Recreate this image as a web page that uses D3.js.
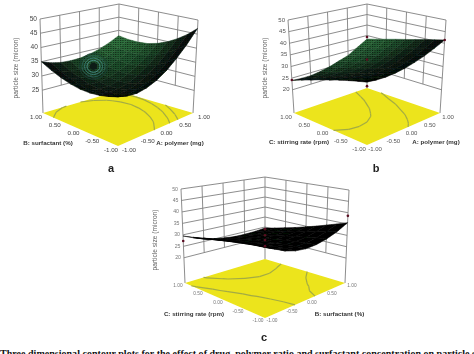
<!DOCTYPE html>
<html>
<head>
<meta charset="utf-8">
<script src="https://cdn.jsdelivr.net/npm/d3@7"></script>
<style>
  html, body { margin: 0; padding: 0; background: #fff; }
  svg { display: block; }
  text { font-family: "Liberation Sans", Arial, sans-serif; }
</style>
</head>
<body>
<div id="chart"></div>
<script>
// factor levels on the surface grid
var levels = [-1, -0.75, -0.5, -0.25, 0, 0.25, 0.5, 0.75, 1];
var axisTicks = [-1, -0.5, 0, 0.5, 1];
var tickLabels = ["-1.00", "-0.50", "0.00", "0.50", "1.00"];

// particle size, rows = second factor, columns = A or B
var sizeA = [
  [32.3, 31.3, 31.1, 31.8, 33.2, 35.4, 38.5, 42.3, 47.0],
  [31.1, 30.0, 29.7, 30.2, 31.4, 33.4, 36.2, 39.8, 44.1],
  [30.4, 29.2, 28.8, 29.1, 30.1, 31.9, 34.4, 37.7, 41.8],
  [30.1, 28.8, 28.3, 28.4, 29.3, 30.9, 33.2, 36.2, 39.9],
  [30.2, 28.9, 28.3, 28.3, 29.0, 30.4, 32.4, 35.1, 38.5],
  [30.8, 29.4, 28.7, 28.7, 29.2, 30.4, 32.0, 34.6, 37.6],
  [31.8, 30.5, 29.8, 29.6, 30.0, 31.0, 32.5, 34.6, 37.3],
  [33.2, 31.9, 31.2, 30.9, 31.2, 32.0, 33.3, 35.1, 37.4],
  [35.0, 33.8, 33.1, 32.9, 33.0, 33.6, 34.6, 36.1, 38.0]
];
var sizeB = [
  [33.5, 33.2, 33.2, 33.6, 34.4, 35.6, 37.1, 39.1, 41.4],
  [32.7, 32.1, 32.0, 32.4, 33.1, 34.3, 35.9, 37.9, 40.5],
  [31.8, 31.1, 30.9, 31.2, 31.9, 33.1, 34.8, 36.9, 39.6],
  [30.8, 30.0, 29.8, 30.0, 30.7, 31.9, 33.7, 35.9, 38.6],
  [29.6, 28.8, 28.5, 28.8, 29.5, 30.8, 32.5, 34.8, 37.6],
  [28.4, 27.6, 27.4, 27.6, 28.4, 29.7, 31.5, 33.8, 36.6],
  [27.0, 26.3, 26.2, 26.5, 27.3, 28.5, 30.4, 32.3, 35.5],
  [25.6, 25.0, 25.0, 25.3, 26.2, 27.5, 29.3, 31.6, 34.4],
  [24.0, 23.7, 23.7, 24.3, 25.2, 26.6, 28.0, 30.6, 33.3]
];
var sizeC = [
  [35.5, 32.9, 31.1, 30.0, 29.6, 30.0, 31.1, 32.9, 35.6],
  [34.8, 32.5, 30.9, 29.8, 29.4, 29.6, 30.5, 32.0, 34.1],
  [34.3, 32.2, 30.6, 29.5, 29.1, 29.1, 29.7, 31.0, 32.6],
  [33.7, 31.7, 30.2, 29.2, 28.6, 28.5, 29.0, 29.9, 31.1],
  [33.0, 31.1, 29.7, 28.6, 28.0, 27.8, 28.0, 28.6, 29.7],
  [32.2, 30.4, 29.0, 28.0, 27.3, 27.0, 27.1, 27.5, 28.3],
  [31.3, 29.6, 28.2, 27.2, 26.5, 26.1, 26.0, 26.4, 27.0],
  [30.3, 28.6, 27.3, 26.2, 25.5, 25.1, 24.9, 25.0, 25.7],
  [29.5, 27.7, 26.3, 25.2, 24.4, 23.9, 23.8, 24.0, 24.5]
];

// design points as [first factor, second factor, size]
var pointsB = [[1, 1, 34.3], [-1, 1, 24.2], [1, -1, 41.4], [-1, -1, 32], [0, 0, 33.4]];
var pointsC = [[-1, 1, 27.3], [1, -1, 38.6], [0, 0, 33.3], [0, 0, 30.7], [0, 0, 28.6], [0, 0, 26]];

var zTicksA = [25, 30, 35, 40, 45, 50];
var zTicksB = [20, 25, 30, 35, 40, 45, 50];
var contoursA = [33, 37, 40];
var contoursB = [30, 35];
var contoursC = [26.5, 30];

var caption = "Three dimensional contour plots for the effect of drug, polymer ratio and surfactant concentration on particle s";

var panels = [
  { id: "a", values: sizeA, zTicks: zTicksA, thresholds: contoursA, points: [], floorZ: 17,
    F: [118, 146], R: [193, 113], L: [43, 113], B: [118, 91],
    tF: [118, 38], tR: [198, 20], tL: [40, 19], tB: [119, 4],
    green: 1, tickSize: 6.2, zSize: 6.6, tickColor: "#444", xName: "A: polymer (mg)", yName: "B: surfactant (%)",
    xTitle: [180, 145], yTitle: [48, 145], zLabel: [16, 68], zFontDx: -3, letter: [111, 172],
    xOff: [11, 5.5], yOff: [-7, 5.5] },
  { id: "b", values: sizeB, zTicks: zTicksB, thresholds: contoursB, points: pointsB, floorZ: 10,
    F: [367, 145], R: [440, 113], L: [294, 113], B: [367, 88],
    tF: [367, 38], tR: [446, 20], tL: [288, 20], tB: [367, 4],
    green: 0.9, tickSize: 6, zSize: 6, tickColor: "#555", xName: "A: polymer (mg)", yName: "C: stirring rate (rpm)",
    xTitle: [436, 143.5], yTitle: [299, 143.5], zLabel: [265, 68], zFontDx: -3, letter: [376, 172],
    xOff: [8, 6], yOff: [-8, 6] },
  { id: "c", values: sizeC, zTicks: zTicksB, thresholds: contoursC, points: pointsC, floorZ: 9,
    F: [265, 318], R: [345, 283], L: [185, 283], B: [265, 259],
    tF: [265, 205], tR: [349, 190], tL: [181, 189], tB: [265, 177],
    green: 0.03, tickSize: 4.8, zSize: 5.2, tickColor: "#777", xName: "B: surfactant (%)", yName: "C: stirring rate (rpm)",
    xTitle: [339.5, 315.5], yTitle: [194, 315.5], zLabel: [155, 240], zFontDx: -3, letter: [264, 341],
    xOff: [7, 3.5], yOff: [-7, 3.5] }
];

var width = 474, height = 354;
var svg = d3.select("#chart").append("svg").attr("width", width).attr("height", height);

var defs = svg.append("defs");
defs.append("filter").attr("id", "soft").append("feGaussianBlur").attr("stdDeviation", 0.4);
var dots = defs.append("pattern").attr("id", "dots").attr("width", 2.4).attr("height", 2)
  .attr("patternUnits", "userSpaceOnUse");
dots.append("rect").attr("width", 1.1).attr("height", 1).attr("fill", "#000").attr("opacity", 0.6);

var unit = d3.scaleLinear().domain([-1, 1]).range([0, 1]);
var root = svg.append("g").attr("filter", "url(#soft)");

panels.forEach(function(p) {
  var g = root.append("g").attr("class", "panel-" + p.id);
  var zt = d3.scaleLinear().domain([p.floorZ, 50]).range([0, 1]);

  function bilerp(c00, c10, c01, c11, u, v) {
    return [0, 1].map(function(i) {
      return (1 - u) * (1 - v) * c00[i] + u * (1 - v) * c10[i] + (1 - u) * v * c01[i] + u * v * c11[i];
    });
  }
  // first factor runs front -> right, second factor front -> left
  function project(a, b, z) {
    var u = unit(a), v = unit(b), t = zt(z);
    var lo = bilerp(p.F, p.R, p.L, p.B, u, v);
    var hi = bilerp(p.tF, p.tR, p.tL, p.tB, u, v);
    return [lo[0] + (hi[0] - lo[0]) * t, lo[1] + (hi[1] - lo[1]) * t];
  }
  var line = d3.line();
  var zMin = d3.min(p.zTicks);

  // back walls
  var wall = g.append("g").attr("fill", "none").attr("stroke", "#808080").attr("stroke-width", 0.9);
  p.zTicks.forEach(function(z) {
    wall.append("path").attr("d", line([project(-1, 1, z), project(1, 1, z), project(1, -1, z)]));
  });
  axisTicks.forEach(function(t) {
    wall.append("path").attr("d", line([project(t, 1, 50), project(t, 1, t == -1 || t == 1 ? p.floorZ : zMin)]));
    if (t < 1) wall.append("path").attr("d", line([project(1, t, 50), project(1, t, t == -1 ? p.floorZ : zMin)]));
  });

  // floor
  g.append("path")
    .attr("d", line([project(-1, -1, p.floorZ), project(1, -1, p.floorZ), project(1, 1, p.floorZ), project(-1, 1, p.floorZ)]) + "Z")
    .attr("fill", "#ece41a");

  // floor contours, edges of the grid are left out
  var n = levels.length;
  var flat = d3.merge(p.values);
  var idx = d3.scaleLinear().domain([0.5, n - 0.5]).range([-1, 1]).clamp(true);
  var contourG = g.append("g").attr("fill", "none").attr("stroke", "#a3ab45").attr("stroke-width", 1.2);
  d3.contours().size([n, n]).smooth(true).thresholds(p.thresholds)(flat).forEach(function(c) {
    c.coordinates.forEach(function(poly) {
      poly.forEach(function(ring) {
        ring.forEach(function(pt, i) {
          if (i == 0) return;
          var q = ring[i - 1];
          var onEdge = (pt[0] <= 0.5 && q[0] <= 0.5) || (pt[0] >= n - 0.5 && q[0] >= n - 0.5) ||
                       (pt[1] <= 0.5 && q[1] <= 0.5) || (pt[1] >= n - 0.5 && q[1] >= n - 0.5);
          if (onEdge) return;
          contourG.append("path").attr("d", line([
            project(idx(q[0]), idx(q[1]), p.floorZ),
            project(idx(pt[0]), idx(pt[1]), p.floorZ)
          ]));
        });
      });
    });
  });

  // surface, painted back to front
  var cells = [];
  d3.range(n - 1).forEach(function(j) {
    d3.range(n - 1).forEach(function(i) {
      cells.push({ i: i, j: j });
    });
  });
  cells.sort(function(x, y) { return (y.i + y.j) - (x.i + x.j); });
  var shade = d3.scaleLinear().domain([0, 0.3, 0.6, 1]).range(["#030504", "#0e2015", "#1f4f2c", "#347a42"]);
  var surface = g.append("g");
  cells.forEach(function(c) {
    var i = c.i, j = c.j;
    var d = line([
      project(levels[i], levels[j], p.values[j][i]),
      project(levels[i + 1], levels[j], p.values[j][i + 1]),
      project(levels[i + 1], levels[j + 1], p.values[j + 1][i + 1]),
      project(levels[i], levels[j + 1], p.values[j + 1][i])
    ]) + "Z";
    var w = unit((levels[i] + levels[i + 1]) / 2) * unit((levels[j] + levels[j + 1]) / 2);
    var col = shade(Math.pow(w, 0.7) * p.green);
    surface.append("path").attr("d", d).attr("fill", col).attr("stroke", col).attr("stroke-width", 0.5);
    surface.append("path").attr("d", d).attr("fill", "url(#dots)");
  });

  // bright rings on the surface of panel a
  if (p.id == "a") {
    var ring = project(0.1, 0.75, 30.7);
    [[14, "#1a3f34"], [11.5, "#285f55"], [9, "#3a7f76"], [6.5, "#4a938a"]].forEach(function(r) {
      g.append("ellipse").attr("cx", ring[0]).attr("cy", ring[1]).attr("rx", r[0]).attr("ry", r[0] * 0.92)
        .attr("fill", "none").attr("stroke", r[1]).attr("stroke-width", 0.9);
    });
    g.append("circle").attr("cx", ring[0]).attr("cy", ring[1]).attr("r", 3.5).attr("fill", "#0c1a17");
  }

  // design points
  p.points.forEach(function(d) {
    var s = project(d[0], d[1], d[2]);
    g.append("circle").attr("cx", s[0]).attr("cy", s[1]).attr("r", 1.3).attr("fill", "#5a1020");
  });

  // z ticks
  p.zTicks.forEach(function(z) {
    var s = project(-1, 1, z);
    g.append("text").attr("x", s[0] + p.zFontDx).attr("y", s[1] + 1.5)
      .attr("text-anchor", "end").attr("font-size", p.zSize).attr("fill", p.tickColor).text(z);
  });

  // floor tick labels
  axisTicks.forEach(function(t, i) {
    var sx = project(t, -1, p.floorZ), sy = project(-1, t, p.floorZ);
    g.append("text").attr("x", sx[0] + p.xOff[0]).attr("y", sx[1] + p.xOff[1])
      .attr("text-anchor", "middle").attr("font-size", p.tickSize).attr("fill", p.tickColor).text(tickLabels[i]);
    g.append("text").attr("x", sy[0] + p.yOff[0]).attr("y", sy[1] + p.yOff[1])
      .attr("text-anchor", "middle").attr("font-size", p.tickSize).attr("fill", p.tickColor).text(tickLabels[i]);
  });

  // titles
  g.append("text").attr("x", p.xTitle[0]).attr("y", p.xTitle[1]).attr("text-anchor", "middle")
    .attr("font-size", 6.2).attr("font-weight", "bold").attr("fill", "#333").text(p.xName);
  g.append("text").attr("x", p.yTitle[0]).attr("y", p.yTitle[1]).attr("text-anchor", "middle")
    .attr("font-size", 6.2).attr("font-weight", "bold").attr("fill", "#333").text(p.yName);
  g.append("text").attr("transform", "translate(" + p.zLabel[0] + "," + p.zLabel[1] + ") rotate(-90)")
    .attr("text-anchor", "middle").attr("dy", "0.35em").attr("font-size", 6.6).attr("fill", "#666")
    .text("particle size (micron)");
  g.append("text").attr("x", p.letter[0]).attr("y", p.letter[1]).attr("text-anchor", "middle")
    .attr("font-size", 11).attr("font-weight", "bold").attr("fill", "#222").text(p.id);
});

svg.append("text").attr("x", 0).attr("y", 356.5)
  .attr("textLength", 476).attr("lengthAdjust", "spacing")
  .style("font-family", "'Liberation Serif', serif").style("font-weight", "bold")
  .attr("font-size", 10).attr("fill", "#111").text(caption);
</script>
</body>
</html>
